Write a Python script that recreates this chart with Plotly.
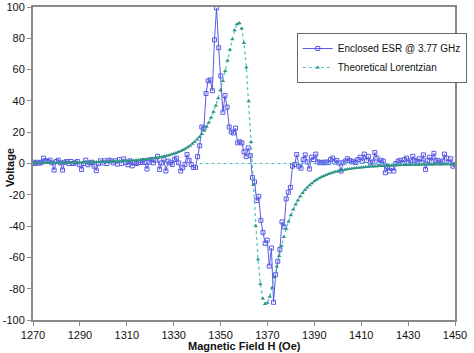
import plotly.graph_objects as go

# ---- data ----
FIELD_START = 1270.0      # Oe, first ESR sample
FIELD_STEP = 0.9          # Oe between ESR samples

esr_voltage = [
    0.8, 0, 0.8, 0.2, 0.8, 3.4, 1.7, 1.3, 2.1, 0.4,
    -4.2, 1.3, 2.1, 0.4, -4.2, 0.8, 1.3, 0, 1.3, 0,
    0.4, 1.3, -0.8, -3.8, 0, 2.1, -0.8, 0.4, 0.8, -1.7,
    -4.6, 0, 1.7, 0.4, 1.7, 0, 2.1, 1.7, 0.4, 1.7,
    -0.4, 2.5, 0, 2.9,
    0.6, -0.8, 1.7, -1.5, 0.6, 0, 0.6, 0.6, 1.7, 0.6, -3.5,
    0.8, 2.5, 0.4, 2.1, 4.6, -3.8, 0.4, 2.5, -4.8, 1.5,
    0.4, -0.6, 2.5, 3.4, 0.4, -4.8, -2.7, -0.6,
    5.7, 2, -0.6, -2.5, -2.5, 4.4, 11.3, 23.3, 22.6, 44.7,
    52.8, 53.4, 46.5, 79, 99.4, 74, 56, 32.7, 43.4, 36,
    23.3, 20.1, 19.5, 22.6, 13.2, 13.8, 13.2, 7.5, 4.4, 10, 5,
    -9, -11.8, -23.7, -21, -36.3, -44, -51, -49, -65.6, -54,
    -88.7, -71, -62.5, -55, -37.3, -40.5, -22.6, -18.4, -15.3, -1.7,
    -0.6, 5.7, -1.7,
    -3, 2.5, 5.5, 1, -3.5, 4, 2.5, 6, 1, 0.5,
    0.8, 0.4, 1, 0.6, 2.5, 3.5, 1, 2, 0.3, -4.8,
    0.5, 1.5, 3, 2, 1, 1.5, 0.6, 2.5, 4, 1.5,
    6, 2, 4.5, 0.5, 1, 7, 3.5, 0.5, 2, 1.5,
    -5.9, -2, -4.8, -3, -4.8, 0, 1.5, 2, 0.5, 2.5,
    3.5, 0.8, 1.7, 4.6, 2, 1.2, 3, 0.8, 5.5, -3.8,
    2, 4, 1.5, 6.5, 2, 1.8, 0.4, 1.5, 6, 3.5,
    0.6, 3, -1.7, -0.6,
]

LOR_START = 1270.0        # Oe, first Lorentzian sample
LOR_STEP = 1.0            # Oe between Lorentzian samples

lorentzian_voltage = [
    0.33, 0.34, 0.35, 0.37, 0.38, 0.39, 0.40, 0.42, 0.43, 0.45,
    0.46, 0.48, 0.50, 0.52, 0.53, 0.55, 0.58, 0.60, 0.62, 0.65,
    0.67, 0.70, 0.73, 0.76, 0.79, 0.83, 0.86, 0.90, 0.94, 0.98,
    1.03, 1.08, 1.13, 1.19, 1.24, 1.31, 1.37, 1.44, 1.52, 1.60,
    1.69, 1.78, 1.88, 1.99, 2.11, 2.24, 2.37, 2.52, 2.68, 2.85,
    3.04, 3.24, 3.46, 3.71, 3.97, 4.26, 4.58, 4.93, 5.32, 5.74,
    6.21, 6.74, 7.32, 7.96, 8.68, 9.49, 10.39, 11.41, 12.55, 13.85,
    15.31, 16.97, 18.85, 20.99, 23.43, 26.21, 29.38, 33.00, 37.10, 41.75,
    46.96, 52.75, 59.08, 65.83, 72.74, 79.39, 85.13, 89.02, 89.84, 86.24,
    76.98, 61.37, 39.76, 13.79,
    -13.79, -39.76, -61.37, -76.98, -86.24, -89.84, -89.02, -85.13, -79.39, -72.74,
    -65.83, -59.08, -52.75, -46.96, -41.75, -37.10, -33.00, -29.38, -26.21, -23.43,
    -20.99, -18.85, -16.97, -15.31, -13.85, -12.55, -11.41, -10.39, -9.49, -8.68,
    -7.96, -7.32, -6.74, -6.21, -5.74, -5.32, -4.93, -4.58, -4.26, -3.97,
    -3.71, -3.46, -3.24, -3.04, -2.85, -2.68, -2.52, -2.37, -2.24, -2.11,
    -1.99, -1.88, -1.78, -1.69, -1.60, -1.52, -1.44, -1.37, -1.31, -1.24,
    -1.19, -1.13, -1.08, -1.03, -0.98, -0.94, -0.90, -0.86, -0.83, -0.79,
    -0.76, -0.73, -0.70, -0.67, -0.65, -0.62, -0.60, -0.58, -0.55, -0.53,
    -0.52, -0.50, -0.48, -0.46, -0.45, -0.43, -0.42,
]

baseline_field = [1341, 1450]
baseline_voltage = [0, 0]

x_ticks = [1270, 1290, 1310, 1330, 1350, 1370, 1390, 1410, 1430, 1450]
y_ticks = [-100, -80, -60, -40, -20, 0, 20, 40, 60, 80, 100]

x_title = "Magnetic Field H (Oe)"
y_title = "Voltage"

esr_field = [FIELD_START + FIELD_STEP * i for i in range(len(esr_voltage))]
lor_field = [LOR_START + LOR_STEP * i for i in range(len(lorentzian_voltage))]

FONT = "Liberation Sans, Arial, sans-serif"
BLUE = "#5a5ae6"
TEAL_LINE = "#48c4c4"
TEAL_MARK = "#2f9485"

W, H = 474, 353
M_L, M_R, M_T, M_B = 33, 11, 7, 33
plot_w = W - M_L - M_R
plot_h = H - M_T - M_B

fig = go.Figure()
fig.add_trace(go.Scatter(
    x=esr_field, y=esr_voltage, mode="lines+markers",
    name="Enclosed ESR @ 3.77 GHz",
    line=dict(color=BLUE, width=1),
    marker=dict(symbol="square-open", size=4, color=BLUE, line=dict(width=1, color=BLUE)),
))
fig.add_trace(go.Scatter(
    x=baseline_field, y=baseline_voltage, mode="lines", showlegend=False,
    line=dict(color=TEAL_LINE, width=1.2, dash="dot"), hoverinfo="skip",
))
fig.add_trace(go.Scatter(
    x=lor_field, y=lorentzian_voltage, mode="lines+markers",
    name="Theoretical Lorentzian",
    line=dict(color=TEAL_LINE, width=1.2, dash="dot"),
    marker=dict(symbol="triangle-up", size=4, color=TEAL_MARK),
))

fig.update_layout(
    width=W, height=H,
    margin=dict(l=M_L, r=M_R, t=M_T, b=M_B),
    paper_bgcolor="white", plot_bgcolor="white",
    font=dict(family=FONT, size=11, color="#111111"),
    showlegend=True,
    legend=dict(
        x=0.625, y=1 - 26 / plot_h, xanchor="left", yanchor="top",
        bgcolor="white", bordercolor="#666666", borderwidth=1,
        font=dict(family=FONT, size=10, color="#111111"),
        tracegroupgap=0, itemwidth=30,
    ),
    annotations=[
        dict(text=f"<b>{x_title}</b>", xref="paper", yref="paper",
             x=0.5, y=-(346 - (H - M_B)) / plot_h, xanchor="center", yanchor="middle",
             showarrow=False, font=dict(family=FONT, size=11, color="#111111")),
        dict(text=f"<b>{y_title}</b>", xref="paper", yref="paper",
             x=-23 / plot_w, y=0.5 - 4 / plot_h, xanchor="center", yanchor="middle",
             textangle=-90, showarrow=False,
             font=dict(family=FONT, size=11, color="#111111")),
    ],
)
fig.update_xaxes(
    range=[1270, 1450], tickvals=x_ticks, ticktext=[str(v) for v in x_ticks],
    showgrid=False, zeroline=False, automargin=False,
    showline=True, linecolor="#8a8a8a", linewidth=2, mirror=True,
    ticks="outside", ticklen=4, tickcolor="#8a8a8a", tickwidth=1,
    tickfont=dict(family=FONT, size=11, color="#111111"),
)
fig.update_yaxes(
    range=[-100, 100], tickvals=y_ticks, ticktext=[str(v) for v in y_ticks],
    showgrid=False, zeroline=False, automargin=False,
    showline=True, linecolor="#8a8a8a", linewidth=2, mirror=True,
    ticks="outside", ticklen=4, tickcolor="#8a8a8a", tickwidth=1,
    tickfont=dict(family=FONT, size=11, color="#111111"),
)

fig.write_html("out.html")
